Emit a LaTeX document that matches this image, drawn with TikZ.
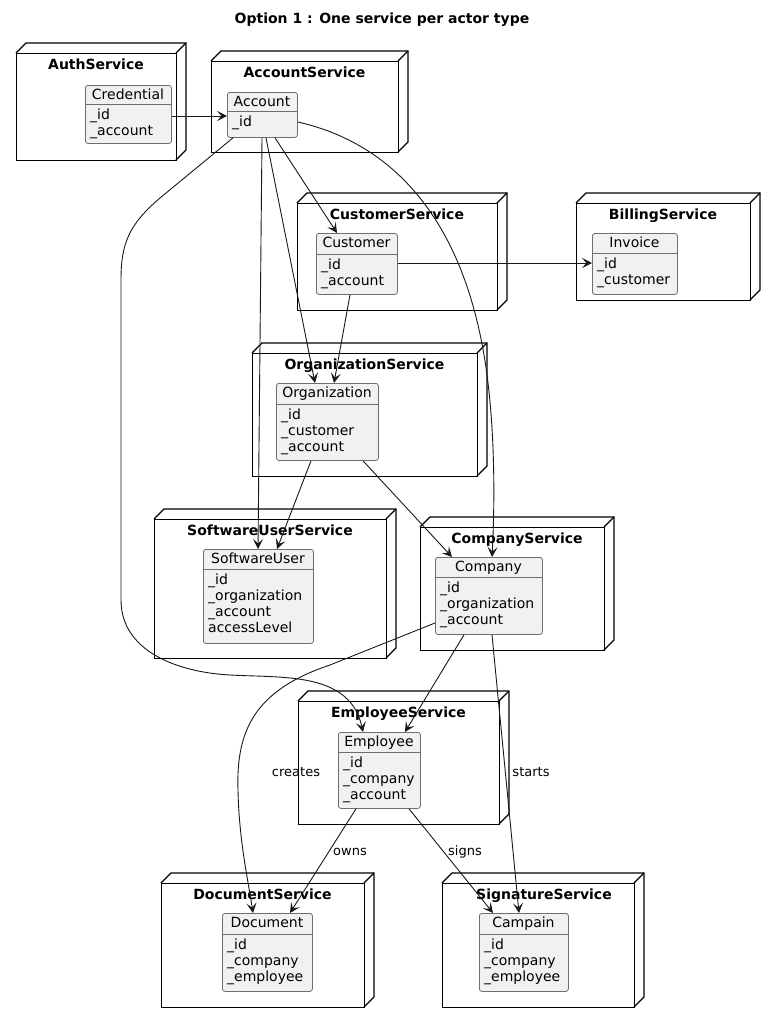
\documentclass[tikz,border=0pt]{standalone}
\usepackage{fontspec}
\setmainfont{DejaVu Sans}
\usetikzlibrary{arrows.meta,calc}
\definecolor{objfill}{HTML}{F1F1F1}
\definecolor{objborder}{HTML}{6E6E6E}
\definecolor{edgecol}{HTML}{181818}
\tikzset{
  svcline/.style={draw=black, line width=1.2pt, line join=miter},
  svctitle/.style={font=\bfseries\fontsize{14}{16}\selectfont, inner sep=0, anchor=base},
  objbox/.style={draw=objborder, fill=objfill, rounded corners=2.5pt, line width=0.8pt, inner sep=0},
  objline/.style={draw=objborder, line width=0.8pt},
  objtext/.style={font=\fontsize{14}{16}\selectfont, inner sep=0, text=black},
  conn/.style={draw=edgecol, line width=0.9pt, -{Stealth[length=10pt,width=10pt,inset=4.5pt]}},
  lbl/.style={font=\fontsize{13}{15}\selectfont, inner sep=0, anchor=base},
}
% service: id, x1, y1, x2, y2, title, title centre x
\newcommand{\svcbox}[7]{%
  \draw[svcline] (#2,#3) -- (#2+10,#3-10) -- (#4+10,#3-10) -- (#4+10,#5-10) -- (#4,#5);
  \draw[svcline] (#4,#3) -- (#4+10,#3-10);
  \node[svcline, anchor=north west, minimum width={(#4-#2)*1pt}, minimum height={(#5-#3)*1pt}, inner sep=0] (#1) at (#2,#3) {};
  \node[svctitle] (#1-t) at (#7,#3+16) {#6};
}
% object: id, x1, y1, x2, y2, ysep, title, fields
\newcommand{\objbox}[8]{%
  \node[objbox, anchor=north west, minimum width={(#4-#2)*1pt}, minimum height={(#5-#3)*1pt}] (#1) at (#2,#3) {};
  \draw[objline] (#2,#6) -- (#4,#6);
  \node[objtext, anchor=base] (#1-t) at ({(#2+#4)/2},#3+14.5) {#7};
  \foreach \f [count=\i] in {#8} {
    \node[objtext, anchor=base west] (#1-f\i) at (#2+5,{#6+15+16*(\i-1)}) {\f};
  }
}
\begin{document}
\begin{tikzpicture}[x=1pt,y=-1pt]
\useasboundingbox (0,0) rectangle (776,1023);
\node[font=\bfseries\fontsize{14}{16}\selectfont, anchor=base, inner sep=0] (title) at (382,23) {Option 1 : One service per actor type};

% services
\svcbox{authS}{16}{53}{176}{160}{AuthService}{96}
\svcbox{accS}{211}{61}{398}{152}{AccountService}{304.5}
\svcbox{custS}{297}{203}{497}{310}{CustomerService}{397}
\svcbox{billS}{576}{203}{750}{300}{BillingService}{663}
\svcbox{orgS}{252}{353}{477}{476}{OrganizationService}{364.5}
\svcbox{swuS}{154}{519}{386}{658}{SoftwareUserService}{270}
\svcbox{compS}{420}{527}{604}{650}{CompanyService}{517}
\svcbox{empS}{298}{701}{499}{824}{EmployeeService}{398.5}
\svcbox{docS}{161}{883}{364}{1007}{DocumentService}{262.5}
\svcbox{sigS}{442}{883}{634}{1007}{SignatureService}{544}

% objects
\objbox{cred}{85}{85}{171}{143}{104}{Credential}{\_id,\_account}
\objbox{acc}{227}{92}{297}{137}{111}{Account}{\_id}
\objbox{cust}{316}{233}{397}{294}{254}{Customer}{\_id,\_account}
\objbox{inv}{592}{233}{677}{294}{253}{Invoice}{\_id,\_customer}
\objbox{org}{276}{383}{378}{460}{404}{Organization}{\_id,\_customer,\_account}
\objbox{swu}{203}{549}{313}{643}{569}{SoftwareUser}{\_id,\_organization,\_account,accessLevel}
\objbox{comp}{435}{557}{542}{634}{577}{Company}{\_id,\_organization,\_account}
\objbox{emp}{338}{732}{420}{808}{752}{Employee}{\_id,\_company,\_account}
\objbox{doc}{222}{913}{312}{991}{934}{Document}{\_id,\_company,\_employee}
\objbox{camp}{479}{913}{568}{991}{934}{Campain}{\_id,\_company,\_employee}

% connectors
\draw[conn] ($(cred.north east)+(0,31)$) -- ($(acc.north west)+(0,24)$);
\draw[conn] ($(acc.south west)+(48,0)$) -- ($(cust.north west)+(21,0)$);
\draw[conn] ($(acc.south west)+(39,0)$) -- ($(org.north west)+(39,0)$);
\draw[conn] ($(acc.south west)+(35,0)$) -- ($(swu.north west)+(55,0)$);
\draw[conn] ($(acc.north east)+(0,30)$) .. controls (400,145) and (470,230) .. (488,383)
            .. controls (496,450) and (494,520) .. ($(comp.north west)+(57,0)$);
\draw[conn] ($(acc.south west)+(6,0)$) -- (160,198) .. controls (128,225) and (121,245) .. (121,280)
            -- (121,600) .. controls (121,650) and (175,672) .. (230,675)
            .. controls (285,678) and (350,672) .. ($(emp.north west)+(25,0)$);
\draw[conn] ($(cust.north east)+(0,30)$) -- ($(inv.north west)+(0,30)$);
\draw[conn] ($(cust.south west)+(34,0)$) -- ($(org.north west)+(58,0)$);
\draw[conn] ($(org.south west)+(35,0)$) -- ($(swu.north west)+(74,0)$);
\draw[conn] ($(org.south west)+(87,0)$) -- ($(comp.north west)+(17,0)$);
\draw[conn] ($(comp.south west)+(29,0)$) -- ($(emp.north west)+(67,0)$);
\draw[conn] ($(comp.north west)+(0,66)$) -- (330,665) .. controls (255,690) and (236,730) .. (238,790)
            .. controls (239,840) and (248,880) .. ($(doc.north west)+(31,0)$);
\draw[conn] ($(comp.south west)+(57,0)$) -- ($(camp.north west)+(40,0)$);
\draw[conn] ($(emp.south west)+(18,0)$) -- ($(doc.north west)+(68,0)$);
\draw[conn] ($(emp.south west)+(71,0)$) -- ($(camp.north west)+(14,0)$);

% labels
\node[lbl] (l-creates) at (296,776) {creates};
\node[lbl] (l-starts) at (531,776) {starts};
\node[lbl] (l-owns) at (350,855) {owns};
\node[lbl] (l-signs) at (465,855) {signs};
\end{tikzpicture}
\end{document}
